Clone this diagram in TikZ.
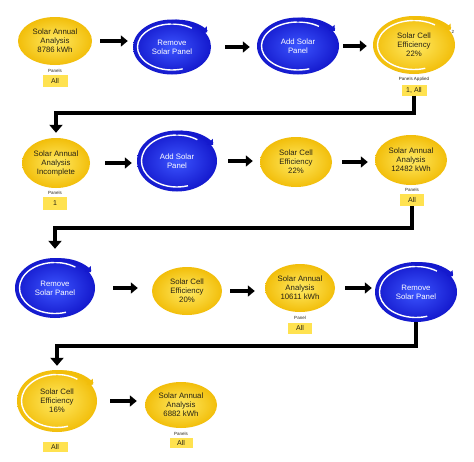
\documentclass[tikz,border=0pt]{standalone}
\usepackage{fontspec}
\setmainfont{Liberation Sans}
\usetikzlibrary{arrows.meta,shapes.geometric,calc}
\definecolor{yin}{RGB}{255,234,100}
\definecolor{yout}{RGB}{242,190,10}
\definecolor{bin}{RGB}{60,85,255}
\definecolor{bout}{RGB}{20,25,205}
\definecolor{lblfill}{RGB}{255,226,80}
\definecolor{txt}{RGB}{40,35,20}
\tikzset{
  yel/.style={ellipse, inner sep=0pt, shading=radial, inner color=yin, outer color=yout,
    align=center, text=txt, font=\fontsize{7.8}{9}\selectfont},
  blu/.style={ellipse, inner sep=0pt, shading=radial, inner color=bin, outer color=bout,
    align=center, text=white, font=\fontsize{7.8}{9}\selectfont},
  lbl/.style={fill=lblfill, inner sep=0pt, font=\fontsize{7}{7}\selectfont, text=txt},
  small/.style={inner sep=0pt, font=\fontsize{4.5}{5}\selectfont, text=txt},
  arr/.style={line width=3.6pt, -{Triangle[length=7pt,width=11pt]}},
  conn/.style={line width=4.2pt, -{Triangle[length=8pt,width=13pt]}, line join=miter},
}
\newcommand\mycycle[6]{%
  \pgfmathsetmacro\cia{#2-4.5}\pgfmathsetmacro\cib{#3-4.5}%
  \pgfmathsetmacro\coa{#2-2.4}\pgfmathsetmacro\cob{#3-2.4}%
  \pgfmathsetmacro\cna{#2+2}\pgfmathsetmacro\cnb{#3+2}%
  \draw[white, line width=1.4pt] ($(#1.center)+(55:\cia\space and \cib)$)
     arc[start angle=55, end angle=288, x radius=\cia, y radius=\cib];
  \draw[#4, line width=3.6pt, -{Triangle[length=4.5pt,width=8pt]}, shift={(#1.center)}]
     plot[domain=92:30, samples=25, smooth]
     ({(\coa+(92-\x)/62*4)*cos(\x)}, {(\cob+(92-\x)/62*4)*sin(\x)});
  \node[inner sep=0pt, font=\fontsize{4.5}{4.5}\selectfont, text=#6] (#1n)
     at ($(#1.center)+(25:\cna\space and \cnb)$) {#5};
}
\begin{document}
\begin{tikzpicture}[x=1pt,y=1pt]
\path[use as bounding box, fill=white] (0,0) rectangle (474,-461);

% row 1
\node[yel, minimum width=74pt, minimum height=48pt] (y1) at (55,-41) {Solar Annual\\Analysis\\8786 kWh};
\node[small] (p1) at (55,-71) {Panels};
\node[lbl, minimum width=25pt, minimum height=12pt] (l1) at (55,-81) {All};

\node[blu, minimum width=78pt, minimum height=55pt] (b2) at (172,-47) {Remove\\Solar Panel};
\mycycle{b2}{39}{27.5}{bout}{5}{white}

\node[blu, minimum width=82pt, minimum height=57pt] (b3) at (298,-46) {Add Solar\\Panel};
\mycycle{b3}{41}{28.5}{bout}{2}{white}

\node[yel, minimum width=82pt, minimum height=58pt] (y4) at (414,-45) {Solar Cell\\Efficiency\\22\%};
\mycycle{y4}{41}{29}{yout}{2}{txt}
\node[small] (p4) at (414,-79) {Panels Applied};
\node[lbl, minimum width=25pt, minimum height=11pt] (l4) at (414,-90) {1, All};

% row 2
\node[yel, minimum width=68pt, minimum height=50pt] (y5) at (56,-163) {Solar Annual\\Analysis\\Incomplete};
\node[small] (p5) at (55,-193) {Panels};
\node[lbl, minimum width=24pt, minimum height=13pt] (l5) at (55,-203) {1};

\node[blu, minimum width=80pt, minimum height=61pt] (b6) at (177,-161) {Add Solar\\Panel};
\mycycle{b6}{40}{30.5}{bout}{2}{white}

\node[yel, minimum width=72pt, minimum height=50pt] (y7) at (296,-162) {Solar Cell\\Efficiency\\22\%};

\node[yel, minimum width=72pt, minimum height=50pt] (y8) at (411,-160) {Solar Annual\\Analysis\\12482 kWh};
\node[small] (p8) at (412,-190) {Panels};
\node[lbl, minimum width=24pt, minimum height=12pt] (l8) at (412,-200) {All};

% row 3
\node[blu, minimum width=80pt, minimum height=60pt] (b9) at (55,-288) {Remove\\Solar Panel};
\mycycle{b9}{40}{30}{bout}{3}{white}

\node[yel, minimum width=70pt, minimum height=48pt] (y10) at (187,-291) {Solar Cell\\Efficiency\\20\%};

\node[yel, minimum width=70pt, minimum height=48pt] (y11) at (300,-288) {Solar Annual\\Analysis\\10611 kWh};
\node[small] (p11) at (300,-318) {Panel};
\node[lbl, minimum width=24pt, minimum height=11pt] (l11) at (300,-328) {All};

\node[blu, minimum width=82pt, minimum height=60pt] (b12) at (416,-292) {Remove\\Solar Panel};
\mycycle{b12}{41}{30}{bout}{6}{white}

% row 4
\node[yel, minimum width=80pt, minimum height=62pt] (y13) at (57,-401) {Solar Cell\\Efficiency\\16\%};
\mycycle{y13}{40}{31}{yout}{}{txt}
\node[lbl, minimum width=25pt, minimum height=10pt] (l13) at (55,-447) {All};

\node[yel, minimum width=72pt, minimum height=46pt] (y14) at (181,-405) {Solar Annual\\Analysis\\6882 kWh};
\node[small] (p14) at (181,-434) {Panels};
\node[lbl, minimum width=23pt, minimum height=10pt] (l14) at (181,-443) {All};

% short arrows (horizontal, at the source's height)
\draw[arr, shorten <=8pt, shorten >=5pt] (y1.east) -- (b2.west |- y1.east);
\draw[arr, shorten <=14pt, shorten >=7pt] (b2.east) -- (b3.west |- b2.east);
\draw[arr, shorten <=4pt, shorten >=6pt] (b3.east) -- (y4.west |- b3.east);
\draw[arr, shorten <=15pt, shorten >=5pt] (y5.east) -- (b6.west |- y5.east);
\draw[arr, shorten <=11pt, shorten >=7pt] (b6.east) -- (y7.west |- b6.east);
\draw[arr, shorten <=10pt, shorten >=7pt] (y7.east) -- (y8.west |- y7.east);
\draw[arr, shorten <=18pt, shorten >=14pt] (b9.east) -- (y10.west |- b9.east);
\draw[arr, shorten <=8pt, shorten >=10pt] (y10.east) -- (y11.west |- y10.east);
\draw[arr, shorten <=10pt, shorten >=3pt] (y11.east) -- (b12.west |- y11.east);
\draw[arr, shorten <=13pt, shorten >=8pt] (y13.east) -- (y14.west |- y13.east);

% long connectors
\coordinate (t1) at (414,-113);
\coordinate (t2) at (412,-228);
\coordinate (t3) at (416,-346);
\draw[conn, shorten >=5pt] (l4.south) -- (t1) -| (y5.north);
\draw[conn, shorten >=9pt] (l8.south) -- (t2) -| (b9.north);
\draw[conn, shorten >=4pt] (b12.south) -- (t3) -| (y13.north);
\end{tikzpicture}
\end{document}
